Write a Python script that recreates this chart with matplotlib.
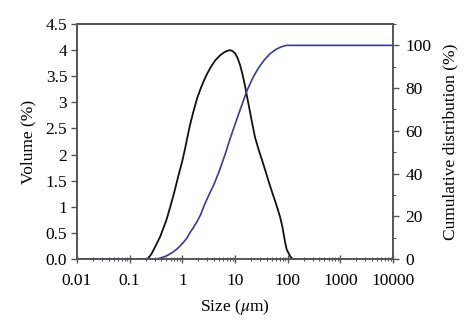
import matplotlib
matplotlib.use("Agg")
import matplotlib.pyplot as plt
from matplotlib.ticker import FixedLocator, FixedFormatter, LogLocator, NullFormatter, MultipleLocator

plt.rcParams['font.family'] = ['Liberation Serif', 'DejaVu Serif']
plt.rcParams['mathtext.fontset'] = 'stix'

# Volume distribution (%) vs size (um)
vol_size = [0.01, 0.22, 0.26, 0.3, 0.34, 0.38, 0.44, 0.5, 0.59, 0.7, 0.83, 1.0, 1.13,
            1.27, 1.41, 1.6, 1.9, 2.2, 2.6, 3.0, 3.5, 4.2, 5.2, 6.3, 7.3, 8.1, 9.0, 10,
            11.2, 12.6, 14, 15.6, 17, 19, 21, 24, 28, 32, 37.5, 44, 51, 60, 72, 80, 89,
            96, 103, 112, 123, 10000]
vol_pct = [0, 0, 0.1, 0.22, 0.33, 0.43, 0.6, 0.75, 1.0, 1.27, 1.57, 1.88, 2.12,
           2.37, 2.58, 2.8, 3.07, 3.25, 3.43, 3.56, 3.68, 3.8, 3.9, 3.96, 3.99, 4.0,
           3.98, 3.94, 3.85, 3.7, 3.52, 3.3, 3.1, 2.85, 2.62, 2.33, 2.1, 1.92, 1.7,
           1.47, 1.27, 1.06, 0.8, 0.6, 0.33, 0.18, 0.12, 0.05, 0, 0]

# Cumulative distribution (%) vs size (um)
cum_size = [0.01, 0.3, 0.35, 0.4, 0.45, 0.5, 0.58, 0.67, 0.78, 0.9, 1.05, 1.2, 1.41,
            1.6, 1.9, 2.2, 2.6, 3.0, 3.5, 4.0, 5.0, 6.5, 8.0, 10, 13, 17, 22, 28, 35,
            45, 55, 65, 80, 95, 10000]
cum_pct = [0, 0, 0.2, 0.6, 1.0, 1.5, 2.3, 3.3, 4.6, 6.0, 7.8, 9.5, 12.5, 14.5, 17.5,
           20.5, 25, 28.5, 32, 35, 41, 49, 56, 63, 71, 79, 85, 89.5, 92.8, 95.8, 97.5,
           98.6, 99.5, 100, 100]

xticks = [0.01, 0.1, 1, 10, 100, 1000, 10000]
xtick_labels = ['0.01', '0.1', '1', '10', '100', '1000', '10000']
yticks = [0, 0.5, 1, 1.5, 2, 2.5, 3, 3.5, 4, 4.5]
ytick_labels = ['0.0', '0.5', '1', '1.5', '2', '2.5', '3', '3.5', '4', '4.5']
y2ticks = [0, 20, 40, 60, 80, 100]

fig = plt.figure(figsize=(4.74, 3.32), dpi=100)
ax = fig.add_axes([77/474, 1-259/332, (393-77)/474, (259-24)/332])
ax2 = ax.twinx()

spine_c = '#555555'
ax.plot(vol_size, vol_pct, color='#111111', lw=1.3)
ax2.plot(cum_size, cum_pct, color='#3b3b8f', lw=1.2)

ax.set_xscale('log')
ax.set_xlim(0.01, 10000)
ax.set_ylim(0, 4.5)
ax2.set_ylim(0, 110)

ax.xaxis.set_major_locator(FixedLocator(xticks))
ax.xaxis.set_major_formatter(FixedFormatter(xtick_labels))
ax.xaxis.set_minor_locator(LogLocator(base=10, subs=range(2, 10), numticks=20))
ax.xaxis.set_minor_formatter(NullFormatter())
ax.yaxis.set_major_locator(FixedLocator(yticks))
ax.yaxis.set_major_formatter(FixedFormatter(ytick_labels))
ax2.yaxis.set_major_locator(FixedLocator(y2ticks))
ax2.yaxis.set_minor_locator(MultipleLocator(10))

for a in (ax, ax2):
    for s in a.spines.values():
        s.set_color(spine_c)
        s.set_linewidth(1.2)

fs = 12.5
ax.tick_params(axis='x', which='major', direction='inout', length=6, width=1.0,
               color=spine_c, labelsize=fs, pad=7)
ax.tick_params(axis='x', which='minor', direction='inout', length=3.5, width=0.8,
               color=spine_c)
ax.tick_params(axis='y', which='major', direction='out', length=4, width=1.0,
               color=spine_c, labelsize=fs, pad=3)
ax2.tick_params(axis='y', which='major', direction='out', length=4, width=1.0,
                color=spine_c, labelsize=fs, pad=5)
ax2.tick_params(axis='y', which='minor', direction='out', length=2.5, width=0.8,
                color=spine_c)

ax.set_xlabel(r'Size ($\mu$m)', fontsize=fs, labelpad=6)
ax.set_ylabel('Volume (%)', fontsize=fs, labelpad=7)
ax2.set_ylabel('Cumulative distribution (%)', fontsize=fs, labelpad=8)

fig.savefig('out.png', dpi=100)
